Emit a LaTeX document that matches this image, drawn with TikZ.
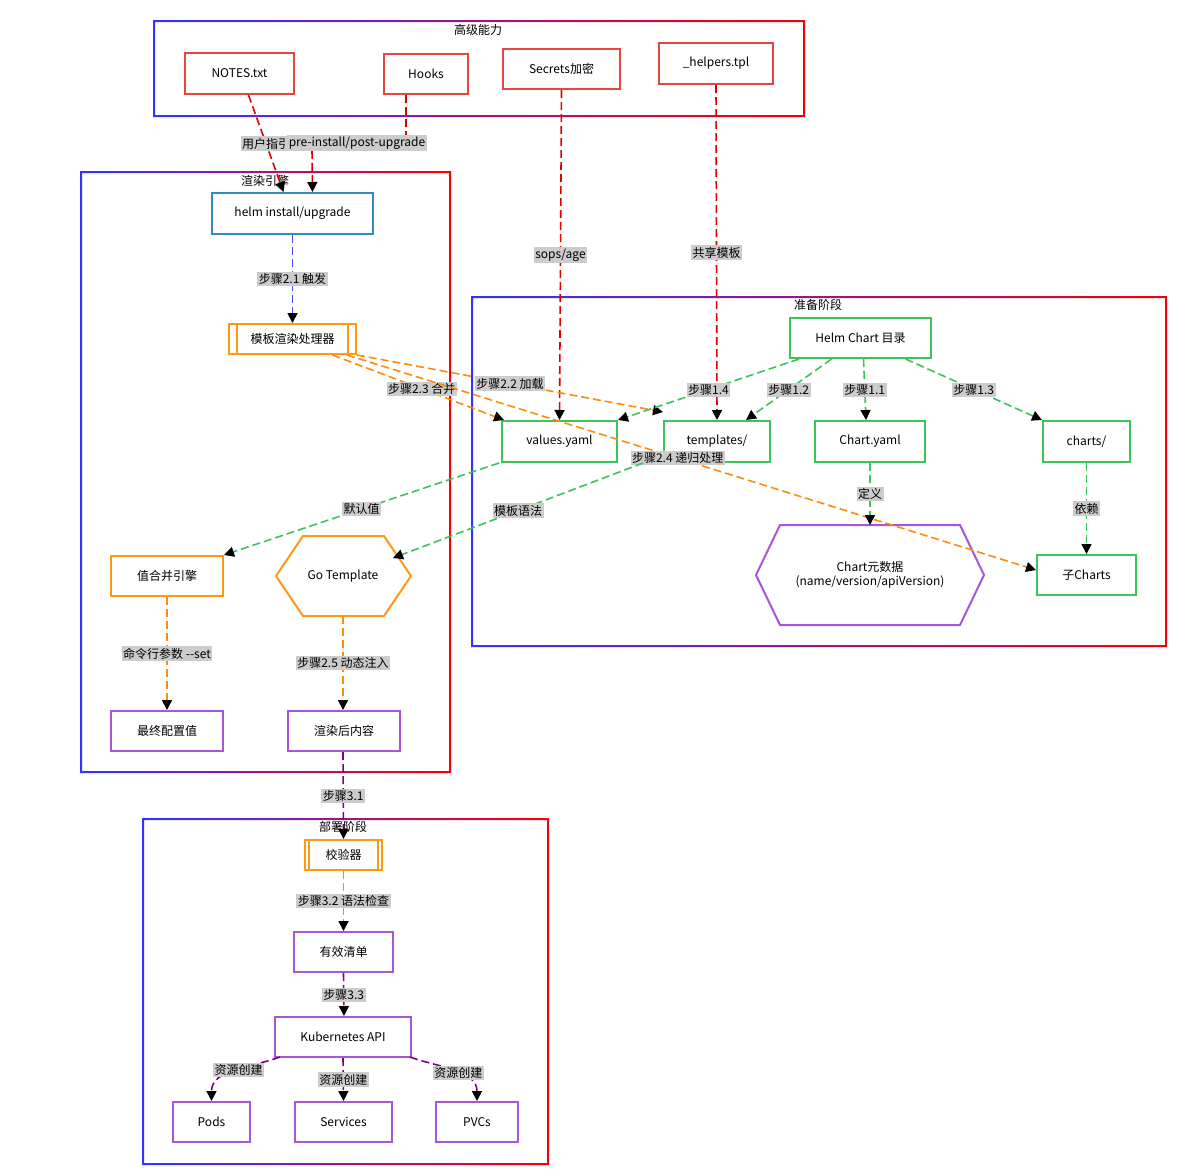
\documentclass[tikz,border=0pt]{standalone}
\usepackage{fontspec}
\setmainfont{Noto Sans CJK SC}
\usetikzlibrary{arrows.meta}
\definecolor{rd}{HTML}{E8453C}
\definecolor{gn}{HTML}{3CC45A}
\definecolor{og}{HTML}{FF9A10}
\definecolor{pp}{HTML}{A855D8}
\begin{document}
\begin{tikzpicture}[x=1pt,y=-1pt,font=\fontsize{12}{14}\selectfont,
 box/.style={draw,line width=2pt,fill=white,inner sep=3pt},
 red/.style={box,draw=rd},
 grn/.style={box,draw=gn},
 org/.style={box,draw=og},
 pur/.style={box,draw=pp},
 blu/.style={box,draw=blue!40!cyan!70!black!80},
 lab/.style={fill=gray!40,inner sep=1.5pt,font=\fontsize{12}{14}\selectfont},
 e/.style={line width=1.6pt,dash pattern=on 8pt off 4pt,-{Triangle[black,length=10pt,width=10pt]}},
 er/.style={e,draw=red!90!black},
 eo/.style={e,draw=og!90!red},
 eg/.style={e,draw=gn},
 eb/.style={e,draw=blue!70},
 ep/.style={e,draw=violet}]
\useasboundingbox (0,0) rectangle (1187,1176);
\fill[white] (0,0) rectangle (1187,1176);
\newcommand\gframe[4]{\shade[left color=blue!80,right color=red!90!purple,even odd rule] (#1,#2) rectangle (#3,#4) (#1+2,#2+2) rectangle (#3-2,#4-2);}
\gframe{153}{20}{805}{117}
\gframe{80}{171}{451}{773}
\gframe{471}{296}{1167}{647}
\gframe{142}{818}{549}{1165}
\node (t1) at (478,30) {高级能力};
\node (t2) at (265,181) {渲染引擎};
\node (t3) at (818,305) {准备阶段};
\node (t4) at (343,827) {部署阶段};
% top
\node[red,minimum width=109pt,minimum height=41pt] (notes) at (239.5,73.5) {NOTES.txt};
\node[red,minimum width=84pt,minimum height=40pt] (hooks) at (426,74) {Hooks};
\node[red,minimum width=117pt,minimum height=40pt] (sec) at (561.5,69) {Secrets加密};
\node[red,minimum width=114pt,minimum height=41pt] (hlp) at (716,63.5) {\_helpers.tpl};
% render
\node[blu,minimum width=161pt,minimum height=41pt] (helm) at (292.5,213.5) {helm install/upgrade};
\node[org,minimum width=127pt,minimum height=30pt] (proc) at (292.5,339) {模板渲染处理器};
\draw[og,line width=2pt] (proc.north west)++(9,0) -- ++(0,30) (proc.north east)++(-9,0) -- ++(0,30);
\node[org,minimum width=112pt,minimum height=40pt] (merge) at (167,576) {值合并引擎};
\draw[og,line width=2pt,fill=white] (276,576) -- (303,536) -- (384,536) -- (411,576) -- (384,616) -- (303,616) -- cycle;
\node (go) at (343,576) {Go Template};
\node[pur,minimum width=112pt,minimum height=40pt] (final) at (167,731) {最终配置值};
\node[pur,minimum width=112pt,minimum height=40pt] (rend) at (344,731) {渲染后内容};
% prep
\node[grn,minimum width=141pt,minimum height=40pt] (chart) at (860.5,338) {Helm Chart 目录};
\node[grn,minimum width=115pt,minimum height=41pt] (vals) at (559.5,441.5) {values.yaml};
\node[grn,minimum width=106pt,minimum height=41pt] (tpl) at (717,441.5) {templates/};
\node[grn,minimum width=110pt,minimum height=41pt] (cy) at (870,441.5) {Chart.yaml};
\node[grn,minimum width=87pt,minimum height=41pt] (cs) at (1086.5,441.5) {charts/};
\draw[pp,line width=2pt,fill=white] (756,575) -- (780,525) -- (960,525) -- (984,575) -- (960,625) -- (780,625) -- cycle;
\node[align=center] (meta) at (870,575) {Chart元数据\\(name/version/apiVersion)};
\coordinate (metaN) at (870,525);
\node[grn,minimum width=99pt,minimum height=40pt] (sub) at (1086.5,575) {子Charts};
% deploy
\node[org,minimum width=77pt,minimum height=30pt] (chk) at (343.5,855) {校验器};
\draw[og,line width=2pt] (chk.north west)++(5,0) -- ++(0,30) (chk.north east)++(-5,0) -- ++(0,30);
\node[pur,minimum width=99pt,minimum height=40pt] (man) at (343.5,952) {有效清单};
\node[pur,minimum width=136pt,minimum height=40pt] (k8s) at (343,1037) {Kubernetes API};
\node[pur,minimum width=77pt,minimum height=40pt] (pods) at (211.5,1122) {Pods};
\node[pur,minimum width=97pt,minimum height=40pt] (svc) at (343.5,1122) {Services};
\node[pur,minimum width=82pt,minimum height=40pt] (pvc) at (477,1122) {PVCs};
% edges top
\draw[er] (notes.south)++(9,0) -- node[lab,pos=0.5]{用户指引} ([xshift=-9pt]helm.north);
\draw[er] (hooks.south)++(-20,0) -- ++(0,49) -- (312,150) -- ([xshift=20pt]helm.north);
\node[lab] at (357,143) {pre-install/post-upgrade};
\draw[er] (sec.south) -- node[lab,pos=0.5]{sops/age} (vals.north);
\draw[er] (hlp.south) -- node[lab,pos=0.5]{共享模板} (tpl.north);
% render edges
\draw[eb] (helm.south) -- node[lab]{步骤2.1 触发} (proc.north);
\draw[eo] ([xshift=40pt]proc.south) -- node[lab,pos=0.52]{步骤2.3 合并} ([xshift=3pt]vals.north west);
\draw[eo] (proc.south east) -- node[lab,pos=0.5]{步骤2.2 加载} ([yshift=8pt]tpl.north west);
\draw[eo] ([xshift=-10pt]proc.south east) -- node[lab,pos=0.48]{步骤2.4 递归处理} ([yshift=5pt]sub.west);
\draw[eg] ([xshift=10pt]chart.south west) -- node[lab,pos=0.5]{步骤1.4} (vals.north east);
\draw[eg] ([xshift=-29pt]chart.south) -- node[lab,pos=0.5]{步骤1.2} ([xshift=29pt]tpl.north);
\draw[eg] ([xshift=3pt]chart.south) -- node[lab,pos=0.5]{步骤1.1} ([xshift=-4pt]cy.north);
\draw[eg] ([xshift=45pt]chart.south) -- node[lab,pos=0.5]{步骤1.3} (cs.north west);
\draw[eg] (cy.south) -- node[lab]{定义} (metaN);
\draw[eg] (cs.south) -- node[lab]{依赖} (sub.north);
\draw[eg] ([xshift=-2pt]vals.south west) -- node[lab,pos=0.5]{默认值} (merge.north east);
\draw[eg] ([xshift=-20pt]tpl.south west) -- node[lab,pos=0.5]{模板语法} (393,558);
\draw[eo] (merge.south) -- node[lab]{命令行参数 {-}{-}set} (final.north);
\draw[eo] (343,616) -- node[lab]{步骤2.5 动态注入} ([xshift=-1pt]rend.north);
% deploy edges
\draw[ep] ([xshift=-1pt]rend.south) -- node[lab]{步骤3.1} (chk.north);
\draw[eo] (chk.south) -- node[lab]{步骤3.2 语法检查} (man.north);
\draw[ep] (man.south) -- node[lab]{步骤3.3} ([xshift=1pt]k8s.north);
\draw[ep] (280,1057) to[out=-160,in=90] node[lab,pos=0.45]{资源创建} (pods.north);
\draw[ep] (k8s.south) -- node[lab]{资源创建} (svc.north);
\draw[ep] (410,1057) to[out=-20,in=90] node[lab,pos=0.55]{资源创建} (pvc.north);
\end{tikzpicture}
\end{document}
